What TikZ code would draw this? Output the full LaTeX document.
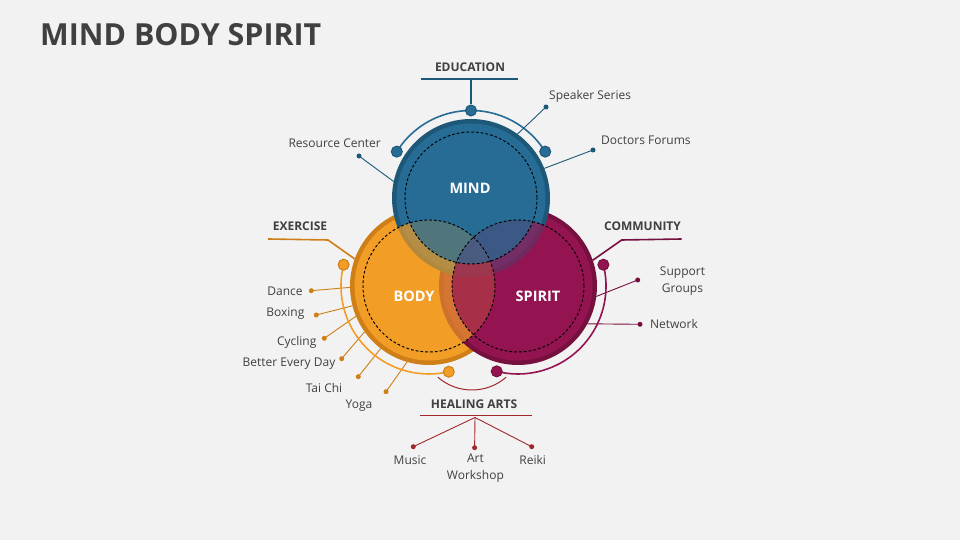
\documentclass[tikz,border=0pt]{standalone}
\usepackage{fontspec}
\setmainfont{Open Sans}
\usetikzlibrary{calc}
\definecolor{bg}{HTML}{F2F2F2}
\definecolor{txt}{HTML}{404040}
\definecolor{mindc}{HTML}{266C94}
\definecolor{mindd}{HTML}{1D5878}
\definecolor{bodyc}{HTML}{F29D26}
\definecolor{bodyd}{HTML}{CF7F17}
\definecolor{spic}{HTML}{941452}
\definecolor{spid}{HTML}{76103F}
\definecolor{heal}{HTML}{A0282D}
\begin{document}
\begin{tikzpicture}[x=1pt,y=1pt,
  lbl/.style={font=\fontsize{12}{16.5}\selectfont, text=txt, inner sep=0pt, align=center, yshift=-1.5pt},
  hdr/.style={font=\fontsize{12}{13}\selectfont\bfseries, text=txt, inner sep=0pt},
  big/.style={font=\fontsize{14.5}{16}\selectfont\bfseries, text=white, inner sep=0pt},
  sdot/.style={circle, inner sep=0pt, minimum size=5pt, fill=#1},
  bdot/.style n args={2}{circle, inner sep=0pt, minimum size=11pt, fill=#1, draw=#2, line width=1pt},
  conn/.style={line width=0.9pt, draw=#1},
  hline/.style={line width=2pt, draw=#1},
  ringarc/.style={line width=1.6pt, draw=#1},
  dashc/.style={draw=black, line width=0.95pt, dash pattern=on 2.8pt off 2pt}
]
\fill[bg] (0,0) rectangle (960,540);
\useasboundingbox (0,0) rectangle (960,540);

% title
\node[anchor=west, font=\fontsize{30.4}{32}\selectfont\bfseries, text=txt, inner sep=0pt] (title) at (40,505) {MIND BODY SPIRIT};

% centres
\coordinate (M) at (471,342);
\coordinate (B) at (429,254);
\coordinate (S) at (518,254);

% outer discs
\fill[bodyd] (B) circle (79); \fill[bodyc] (B) circle (74.5);
\fill[spid] (S) circle (79); \fill[spic] (S) circle (74.5);
\fill[mindd] (M) circle (79); \fill[mindc] (M) circle (74.5);
% inner translucent discs
\fill[bodyc, fill opacity=0.7] (B) circle (66);
\fill[spic, fill opacity=0.7] (S) circle (66);
\fill[mindc, fill opacity=0.7] (M) circle (66);
\draw[dashc] (B) circle (66);
\draw[dashc] (S) circle (66);
\draw[dashc] (M) circle (66);

\node[big] (mindl) at (470,352) {MIND};
\node[big] (bodyl) at (414,244) {BODY};
\node[big] (spil) at (538,244) {SPIRIT};

% ===== EDUCATION =====
\draw[ringarc=mindc] ($(M)+(148:87.5)$) arc[start angle=148, end angle=32, radius=87.5];
\node[bdot={mindc}{mindd}] (e1) at ($(M)+(148:87.5)$) {};
\node[bdot={mindc}{mindd}] (e2) at ($(M)+(90:87.5)$) {};
\node[bdot={mindc}{mindd}] (e3) at ($(M)+(32:87.5)$) {};
\coordinate (eduL) at (421,461);
\coordinate (eduR) at (518,461);
\coordinate (eduM) at (471,461);
\draw[hline=mindd] (eduL) -- (eduR);
\draw[hline=mindd] (eduM) -- (e2.north);
\node[hdr] (edu) at (470,473) {EDUCATION};

\coordinate (m1) at ($(M)+(54:79)$);
\coordinate (m2) at ($(M)+(22:79)$);
\coordinate (m3) at ($(M)+(168:79)$);
\node[sdot=mindd] (d1) at (546,433) {};
\node[sdot=mindd] (d2) at (593,390) {};
\node[sdot=mindd] (d3) at (359,384) {};
\draw[conn=mindd] (m1) -- (d1.center);
\draw[conn=mindd] (m2) -- (d2.center);
\draw[conn=mindd] (m3) -- (d3.center);
\node[lbl, anchor=west] (t1) at (549,445) {Speaker Series};
\node[lbl, anchor=west] (t2) at (601,401) {Doctors Forums};
\node[lbl, anchor=east] (t3) at (381,398) {Resource Center};

% ===== EXERCISE =====
\coordinate (exA) at (268,301);
\coordinate (exB) at (328,300);
\coordinate (exC) at ($(B)+(160:79)$);
\draw[line width=1.6pt, draw=bodyd] (exA) -- (exB) -- (exC);
\node[hdr] (ex) at (300,314) {EXERCISE};

\foreach \a/\px/\py/\n in {181/311.3/249.3/1, 194.5/316.3/225/2, 202.5/324.3/201.7/3, 215.4/341.7/181.3/4, 232.3/358.3/163.3/5, 253.9/386/148.3/6}{
  \coordinate (b\n) at ($(B)+(\a:79)$);
  \node[sdot=bodyd] (bd\n) at (\px,\py) {};
  \draw[conn=bodyd] (b\n) -- (bd\n.center);
}
\draw[ringarc=bodyc] ($(B)+(166:88)$) arc[start angle=166, end angle=283, radius=88];
\node[bdot={bodyc}{bodyd}] (x1) at ($(B)+(166:88)$) {};
\node[bdot={bodyc}{bodyd}] (x2) at ($(B)+(283:88)$) {};

\node[lbl] (tb1) at (285,250) {Dance};
\node[lbl] (tb2) at (285.3,228) {Boxing};
\node[lbl] (tb3) at (296.7,199) {Cycling};
\node[lbl] (tb4) at (289,178) {Better Every Day};
\node[lbl] (tb5) at (324,153) {Tai Chi};
\node[lbl] (tb6) at (359,135.5) {Yoga};

% ===== COMMUNITY =====
\coordinate (coA) at (681.7,301);
\coordinate (coB) at (621.7,300);
\coordinate (coC) at ($(S)+(19:79)$);
\draw[line width=1.6pt, draw=spid] (coA) -- (coB) -- (coC);
\node[hdr] (co) at (642.5,313.3) {COMMUNITY};

\coordinate (s1) at ($(S)+(-7.6:79)$);
\coordinate (s2) at ($(S)+(-28.6:79)$);
\node[sdot=spid] (sd1) at (637.7,260) {};
\node[sdot=spid] (sd2) at (640,215.7) {};
\draw[conn=spid] (s1) -- (sd1.center);
\draw[conn=spid] (s2) -- (sd2.center);
\draw[ringarc=spic] ($(S)+(14:88)$) arc[start angle=14, end angle=-104, radius=88];
\node[bdot={spic}{spid}] (y1) at ($(S)+(14:88)$) {};
\node[bdot={spic}{spid}] (y2) at ($(S)+(-104:88)$) {};
\node[lbl] (ts1) at (682.5,260.5) {Support\\Groups};
\node[lbl] (ts2) at (674,217) {Network};

% ===== HEALING ARTS =====
\coordinate (H) at (472,202);
\draw[line width=1pt, draw=heal] ($(H)+(229:52)$) arc[start angle=229, end angle=311, radius=52];
\node[hdr] (ha) at (474,135.7) {HEALING ARTS};
\coordinate (haL) at (420,124.5);
\coordinate (haR) at (531.7,124.5);
\coordinate (haM) at (475,122.5);
\draw[line width=1.3pt, draw=heal] (haL) -- (haR);
\node[sdot=heal] (hd1) at (413.3,93.3) {};
\node[sdot=heal] (hd2) at (474.6,92.3) {};
\node[sdot=heal] (hd3) at (531.7,93.3) {};
\draw[conn=heal] (haM) -- (hd1.center);
\draw[conn=heal] (haM) -- (hd2.center);
\draw[conn=heal] (haM) -- (hd3.center);
\node[lbl] (th1) at (410,81) {Music};
\node[lbl] (th2) at (475.4,73.5) {Art\\Workshop};
\node[lbl] (th3) at (532.7,81.7) {Reiki};
\end{tikzpicture}
\end{document}
